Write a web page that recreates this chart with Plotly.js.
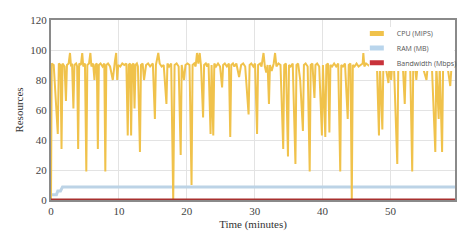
<!DOCTYPE html>
<html>
<head>
<meta charset="utf-8">
<script src="https://cdn.plot.ly/plotly-3.0.1.min.js"></script>
<style>html,body{margin:0;padding:0;background:#fff;}#chart{width:474px;height:246px;}</style>
</head>
<body>
<div id="chart"></div>
<script>
// ---- data ----
const cpuTime = [0,0.1,0.4,0.7,1.0,1.15,1.4,1.55,1.7,2.0,2.2,2.35,2.6,2.8,2.95,3.1,3.3,3.45,3.7,3.85,4.0,4.15,4.4,4.6,4.75,5.0,5.2,5.35,5.6,5.8,5.95,6.2,6.4,6.55,6.75,6.9,7.05,7.3,7.6,7.85,8.0,8.15,8.4,8.7,9.1,9.4,9.6,9.75,9.9,10.2,10.5,10.8,11.1,11.3,11.45,11.65,11.8,11.95,12.15,12.3,12.45,12.65,12.8,13.1,13.25,13.5,13.7,14.0,14.3,14.6,15.0,15.3,15.45,15.8,16.0,16.3,16.6,17.0,17.15,17.4,17.7,18.0,18.2,18.5,18.8,19.1,19.25,19.6,19.8,20.1,20.4,20.7,20.85,21.1,21.3,21.5,21.7,21.9,22.1,22.4,22.55,22.8,23.0,23.2,23.5,23.65,23.9,24.05,24.3,24.6,24.9,25.2,25.35,25.6,25.9,26.2,26.4,26.55,26.8,27.0,27.3,27.7,28.0,28.3,28.6,29.1,29.25,29.5,29.8,30.05,30.35,30.5,30.8,31.0,31.3,31.5,31.7,31.9,32.1,32.25,32.5,32.8,33.0,33.2,33.5,33.8,34.2,34.35,34.6,34.9,35.05,35.3,35.6,36.0,36.15,36.4,36.7,37.1,37.25,37.5,37.8,38.1,38.25,38.5,38.8,38.95,39.2,39.5,39.9,40.05,40.4,40.55,40.8,41.0,41.15,41.4,41.7,42.0,42.3,42.6,42.75,43.0,43.3,43.7,43.85,44.1,44.3,44.45,44.7,45.0,45.3,45.6,45.9,46.0,46.15,46.4,46.7,47.0,47.3,47.6,48.0,48.3,48.45,48.8,48.95,49.2,49.7,49.85,50.1,50.25,50.5,51.0,51.15,51.5,51.8,52.1,52.25,52.6,52.9,53.2,53.35,53.6,53.8,54.0,54.3,54.6,55.3,55.5,55.8,56.1,56.6,56.75,57.1,57.25,57.6,57.75,58.1,58.4,58.8,59.0,59.3];
const cpuValue = [0,91,90,70,44,91,90,34,91,89,66,90,91,98,89,91,61,90,91,89,34,91,90,98,89,91,19,90,91,98,89,91,80,90,91,34,90,91,89,91,19,90,91,89,80,92,98,80,90,89,91,90,91,43,90,91,43,90,91,61,90,91,89,32,90,91,80,90,91,89,91,54,90,98,91,89,90,64,91,89,91,0,90,91,89,30,90,80,90,91,90,10,90,91,89,98,91,98,89,55,90,91,89,91,44,90,43,91,89,91,89,75,90,91,89,91,42,90,91,89,91,82,90,91,89,57,90,91,89,91,44,90,91,89,98,89,85,90,64,90,86,91,98,89,91,90,34,90,91,29,90,89,91,24,90,91,80,46,90,91,89,19,90,91,68,90,91,89,43,90,42,90,91,45,90,89,91,89,91,19,90,89,91,54,90,91,0,90,89,91,89,90,91,98,89,91,90,89,90,91,90,43,90,47,90,91,78,90,80,90,91,24,90,89,91,64,90,91,89,19,90,91,80,90,89,91,80,90,91,89,32,90,54,90,32,90,91,89,76,90,88];
const ramTime = [0,0.8,1.0,1.4,1.7,59.5];
const ramValue = [3.5,3.5,6,6,8.7,8.7];
const bwTime = [0,59.5];
const bwValue = [0.3,0.3];
const seriesNames = ['CPU (MIPS)','RAM (MB)','Bandwidth (Mbps)'];
const seriesColors = ['#f0c24b','#b9d5ec','#c8323a'];
const xTicks = [0,10,20,30,40,50];
const yTicks = [0,20,40,60,80,100,120];

const traces = [
  {type:'scatter',mode:'lines',x:ramTime,y:ramValue,line:{color:'#bcd3e6',width:3},showlegend:false,hoverinfo:'skip'},
  {type:'scatter',mode:'lines',x:cpuTime,y:cpuValue,line:{color:seriesColors[0],width:2},showlegend:false,hoverinfo:'skip'},
  {type:'scatter',mode:'lines',x:bwTime,y:bwValue,line:{color:'#a8302e',width:2},showlegend:false,hoverinfo:'skip'}
];
// legend entries (rectangular swatches), one legend per entry for exact spacing
const legendIds = ['legend','legend2','legend3'];
seriesNames.forEach((n,i)=>{
  traces.push({type:'scatter',mode:'markers',x:[null],y:[null],name:n,legend:legendIds[i],
    marker:{color:seriesColors[i],symbol:'line-ew',size:10,line:{width:5,color:seriesColors[i]}},showlegend:true});
});

const serif = 'Liberation Serif, Times New Roman, serif';
const legendCenters = [0.925,0.845,0.762];
const legendBase = {x:0.757,xanchor:'left',yanchor:'middle',bgcolor:'rgba(0,0,0,0)',borderwidth:0,
  font:{family:'Open Sans, sans-serif',size:7,color:'#555'},itemwidth:30};
const layout = {
  width:474,height:246,
  margin:{l:51,r:17,t:20,b:46},
  paper_bgcolor:'#fff',plot_bgcolor:'#fff',
  showlegend:true,
  legend:Object.assign({},legendBase,{y:legendCenters[0]}),
  legend2:Object.assign({},legendBase,{y:legendCenters[1]}),
  legend3:Object.assign({},legendBase,{y:legendCenters[2]}),
  // opaque white legend backdrop
  shapes:[{type:'rect',xref:'paper',yref:'paper',x0:0.787,x1:0.9975,y0:0.716,y1:0.961,
    fillcolor:'#ffffff',opacity:1,line:{width:0},layer:'above'}],
  xaxis:{range:[0,59.5],tickvals:xTicks,ticktext:xTicks.map(String),showgrid:true,gridcolor:'#e3e3e3',gridwidth:1,
    zeroline:false,showline:true,linecolor:'#8a8a8a',linewidth:2,mirror:true,ticks:'',
    tickfont:{family:serif,size:11,color:'#444'},
    title:{text:'Time (minutes)',font:{family:serif,size:11,color:'#333'},standoff:4}},
  yaxis:{range:[0,120],tickvals:yTicks,ticktext:yTicks.map(String),showgrid:true,gridcolor:'#e3e3e3',gridwidth:1,
    zeroline:false,showline:true,linecolor:'#8a8a8a',linewidth:2,mirror:true,ticks:'',
    tickfont:{family:serif,size:11,color:'#444'},
    title:{text:'Resources',font:{family:serif,size:11,color:'#333'},standoff:4}}
};
Plotly.newPlot('chart',traces,layout,{displayModeBar:false,staticPlot:true});
</script>
</body>
</html>
